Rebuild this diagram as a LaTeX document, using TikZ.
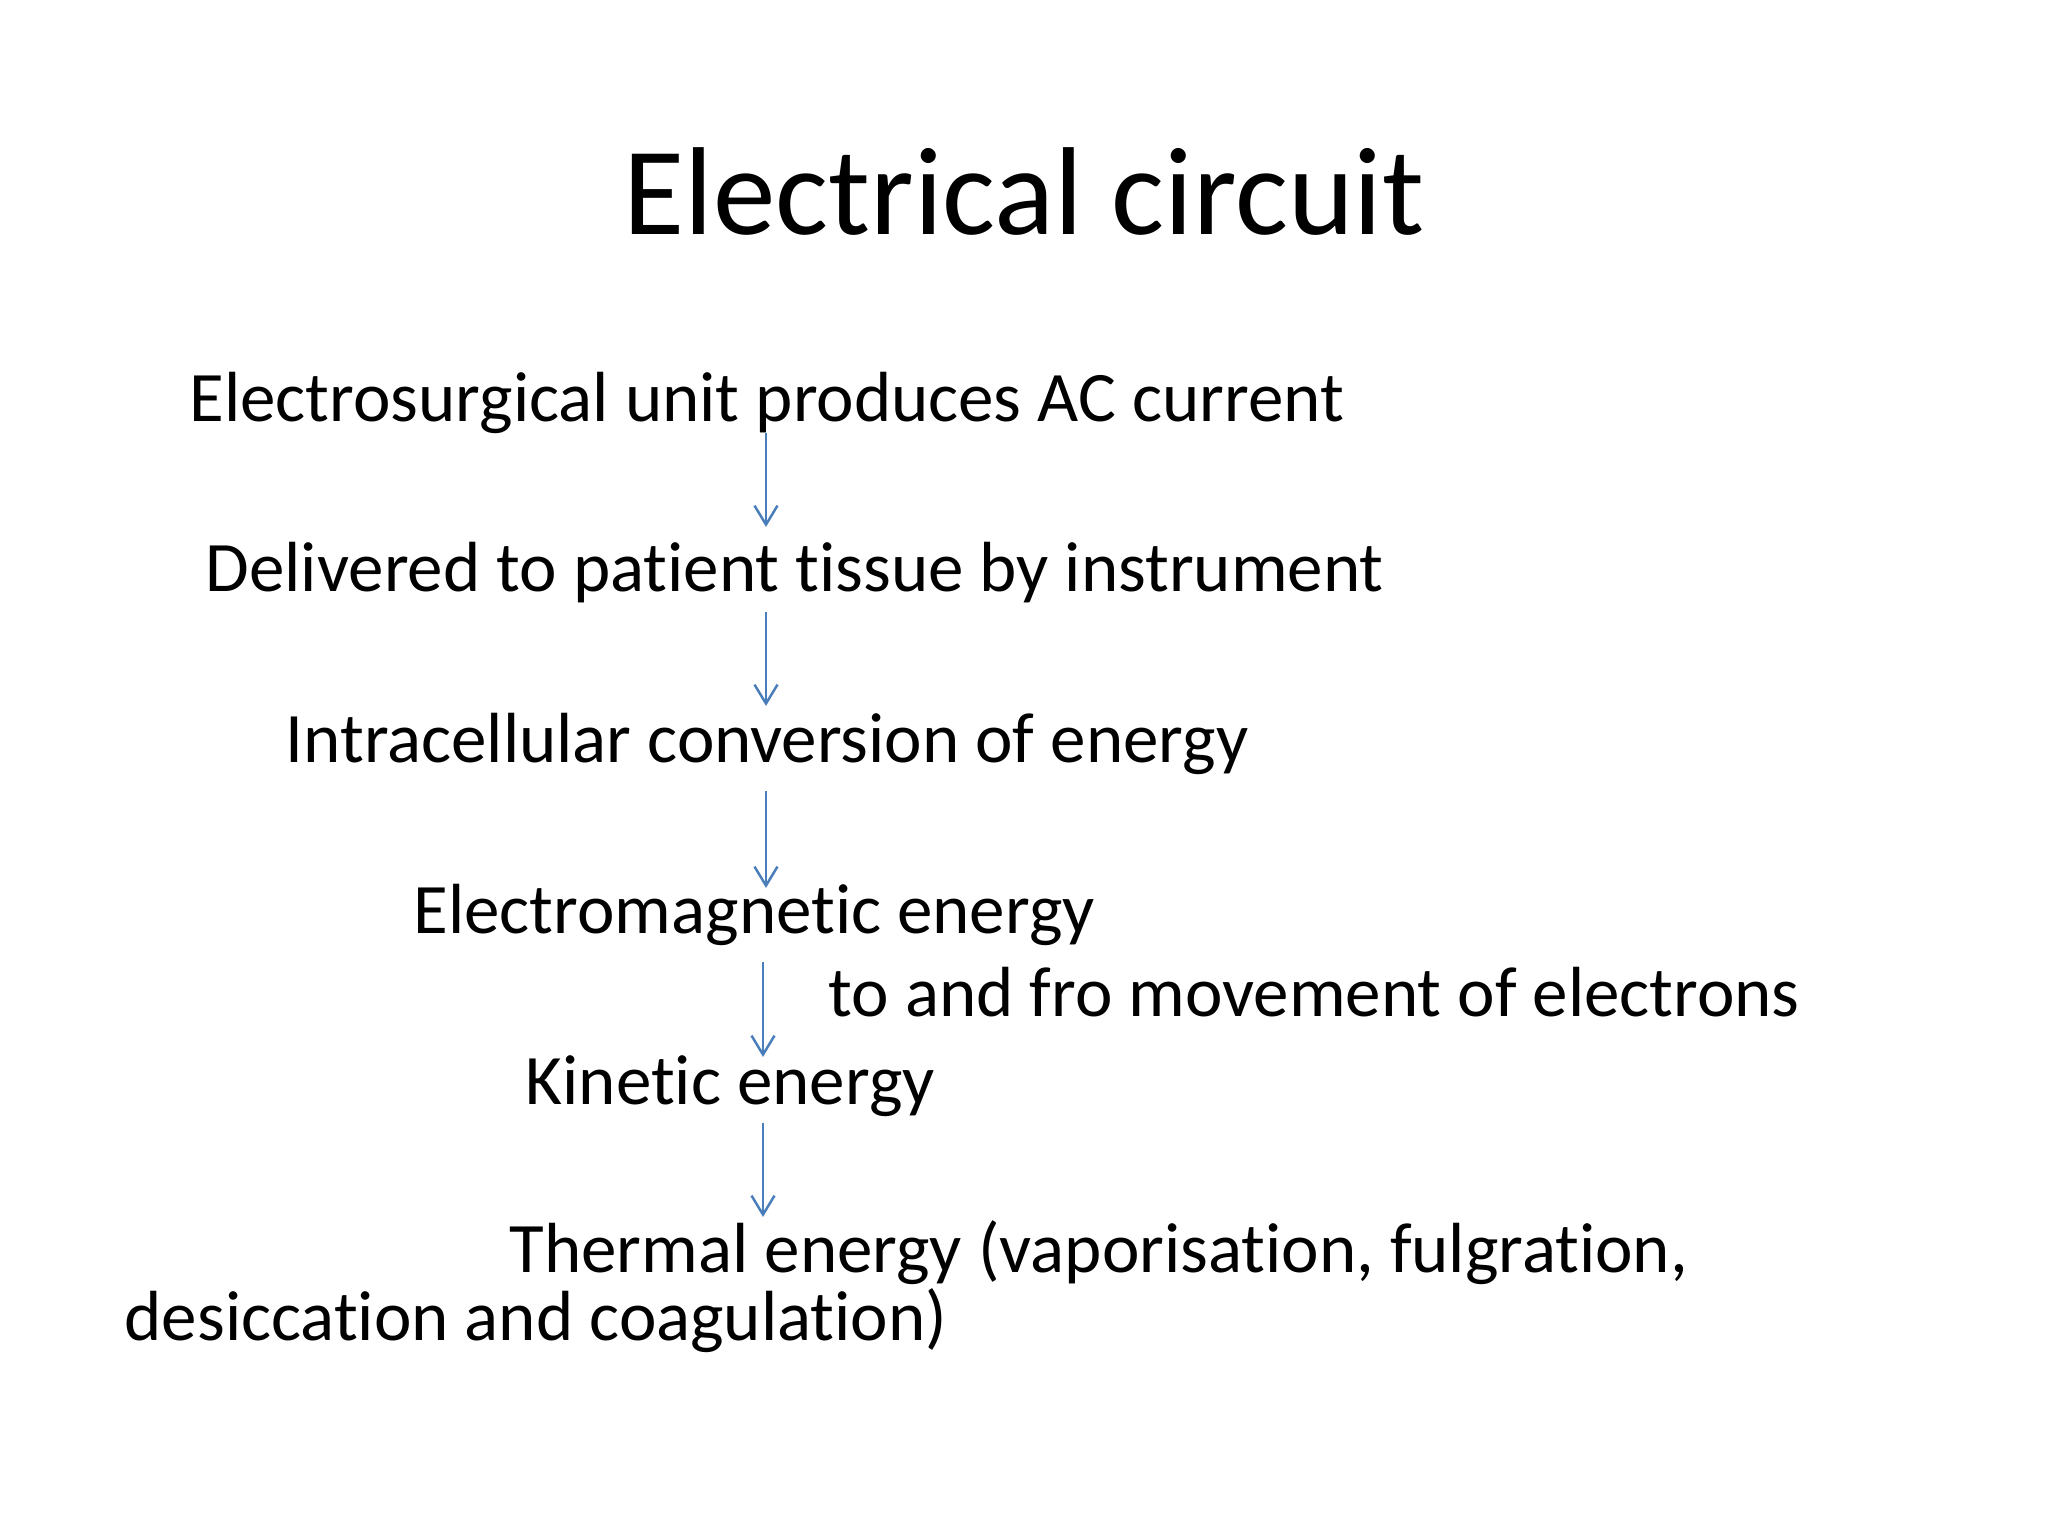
\documentclass[tikz,border=0pt]{standalone}
\usepackage{fontspec}
\setmainfont{Carlito}[Ligatures={NoCommon}]
\usetikzlibrary{arrows.meta}

\definecolor{arrowblue}{HTML}{4A7EBB}

\begin{document}
\begin{tikzpicture}[
    txt/.style={anchor=base west, inner sep=0pt, font=\fontsize{20.2}{24}\selectfont},
    flow/.style={draw=arrowblue, line width=0.7pt, -{Straight Barb[length=1.9mm, width=2.3mm]}}
  ]
    \useasboundingbox[fill=white] (0, 0) rectangle (20.48, 15.36);

    % タイトル
    \node[anchor=base, inner sep=0pt, font=\fontsize{35.6}{43}\selectfont] (title) at (10.24, 13.01) {Electrical circuit};

    \node[txt] (esu) at (1.89, 11.14) {Electrosurgical unit produces AC current};
    \node[txt] (tissue) at (2.05, 9.44) {Delivered to patient tissue by instrument};
    \node[txt] (intra) at (2.85, 7.73) {Intracellular conversion of energy};
    \node[txt] (emag) at (4.13, 6.02) {Electromagnetic energy};
    \node[txt] (electrons) at (8.28, 5.19) {to and fro movement of electrons};
    \node[txt] (kinetic) at (5.25, 4.31) {Kinetic energy};
    \node[txt] (thermal) at (5.09, 2.63) {Thermal energy (vaporisation, fulgration,};
    \node[txt] (thermal2) at (1.24, 1.95) {desiccation and coagulation)};

    % 矢印の端点
    \coordinate (esu_out) at (7.66, 11.03);
    \coordinate (tissue_in) at (7.66, 10.09);
    \coordinate (tissue_out) at (7.66, 9.24);
    \coordinate (intra_in) at (7.66, 8.30);
    \coordinate (intra_out) at (7.66, 7.45);
    \coordinate (emag_in) at (7.66, 6.48);
    \coordinate (emag_out) at (7.63, 5.74);
    \coordinate (kinetic_in) at (7.63, 4.79);
    \coordinate (kinetic_out) at (7.63, 4.13);
    \coordinate (thermal_in) at (7.63, 3.19);

    \draw[flow] (esu_out) -- (tissue_in);
    \draw[flow] (tissue_out) -- (intra_in);
    \draw[flow] (intra_out) -- (emag_in);
    \draw[flow] (emag_out) -- (kinetic_in);
    \draw[flow] (kinetic_out) -- (thermal_in);

  \end{tikzpicture}
\end{document}
